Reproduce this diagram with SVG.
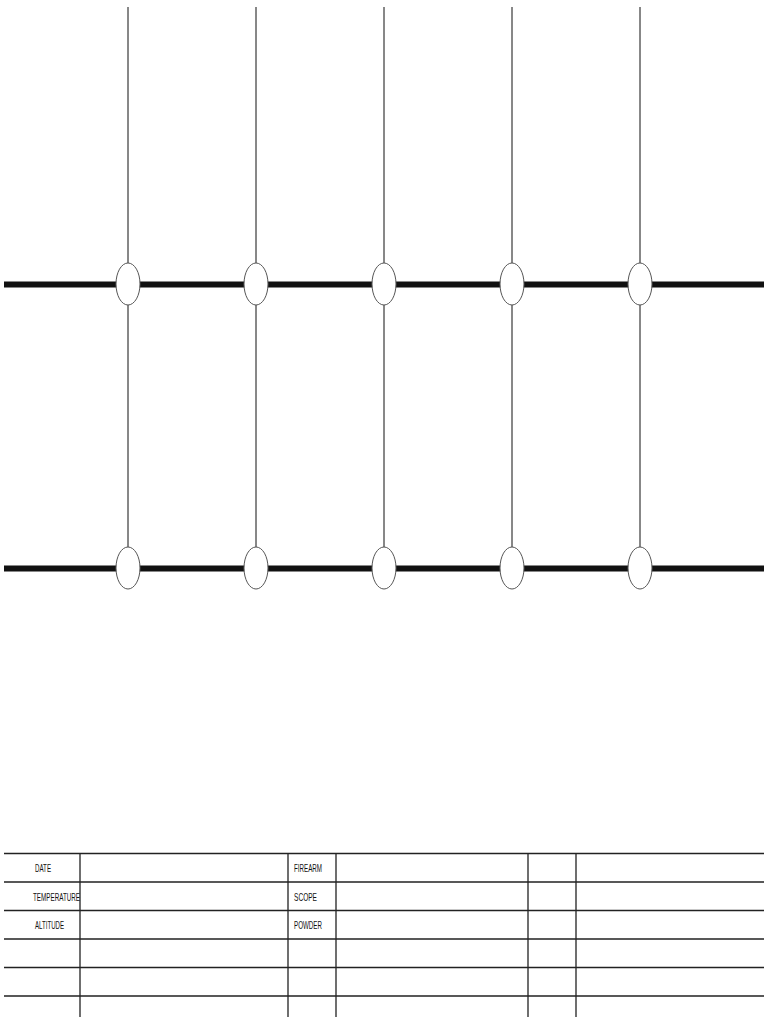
<svg xmlns="http://www.w3.org/2000/svg" width="768" height="1024" viewBox="0 0 768 1024">
<style>
.bar{stroke:#111;stroke-width:6;fill:none}
.thin{stroke:#111;stroke-width:1;fill:none}
.node{fill:#fff;stroke:#555;stroke-width:1}
.grid{stroke:#222;stroke-width:1.3;fill:none}
.lbl{font-family:"Liberation Sans",Arial,sans-serif;font-size:11px;fill:#111}
</style>
<rect width="768" height="1024" fill="#fff"/>
<g id="connectors">
<line class="bar" x1="4" y1="284.5" x2="764" y2="284.5"/>
<line class="bar" x1="4" y1="568.5" x2="764" y2="568.5"/>
<path class="thin" d="M128 7V263M256 7V263M384 7V263M512 7V263M640 7V263M128 305V547M256 305V547M384 305V547M512 305V547M640 305V547"/>
</g>
<g id="n1"><ellipse class="node" cx="128" cy="284" rx="12" ry="21"/></g>
<g id="n2"><ellipse class="node" cx="256" cy="284" rx="12" ry="21"/></g>
<g id="n3"><ellipse class="node" cx="384" cy="284" rx="12" ry="21"/></g>
<g id="n4"><ellipse class="node" cx="512" cy="284" rx="12" ry="21"/></g>
<g id="n5"><ellipse class="node" cx="640" cy="284" rx="12" ry="21"/></g>
<g id="n6"><ellipse class="node" cx="128" cy="568" rx="12" ry="21"/></g>
<g id="n7"><ellipse class="node" cx="256" cy="568" rx="12" ry="21"/></g>
<g id="n8"><ellipse class="node" cx="384" cy="568" rx="12" ry="21"/></g>
<g id="n9"><ellipse class="node" cx="512" cy="568" rx="12" ry="21"/></g>
<g id="n10"><ellipse class="node" cx="640" cy="568" rx="12" ry="21"/></g>
<g id="table">
<path class="grid" d="M4 853.5H764M4 882H764M4 910.5H764M4 939H764M4 967.5H764M4 996H764M80 853V1017M288 853V1017M336 853V1017M528 853V1017M576 853V1017"/>
<text class="lbl" x="35" y="872" textLength="16" lengthAdjust="spacingAndGlyphs">DATE</text>
<text class="lbl" x="33" y="901" textLength="47" lengthAdjust="spacingAndGlyphs">TEMPERATURE</text>
<text class="lbl" x="35" y="929" textLength="29" lengthAdjust="spacingAndGlyphs">ALTITUDE</text>
<text class="lbl" x="294" y="872" textLength="28" lengthAdjust="spacingAndGlyphs">FIREARM</text>
<text class="lbl" x="294" y="901" textLength="23" lengthAdjust="spacingAndGlyphs">SCOPE</text>
<text class="lbl" x="294" y="929" textLength="28" lengthAdjust="spacingAndGlyphs">POWDER</text>
</g>
</svg>
